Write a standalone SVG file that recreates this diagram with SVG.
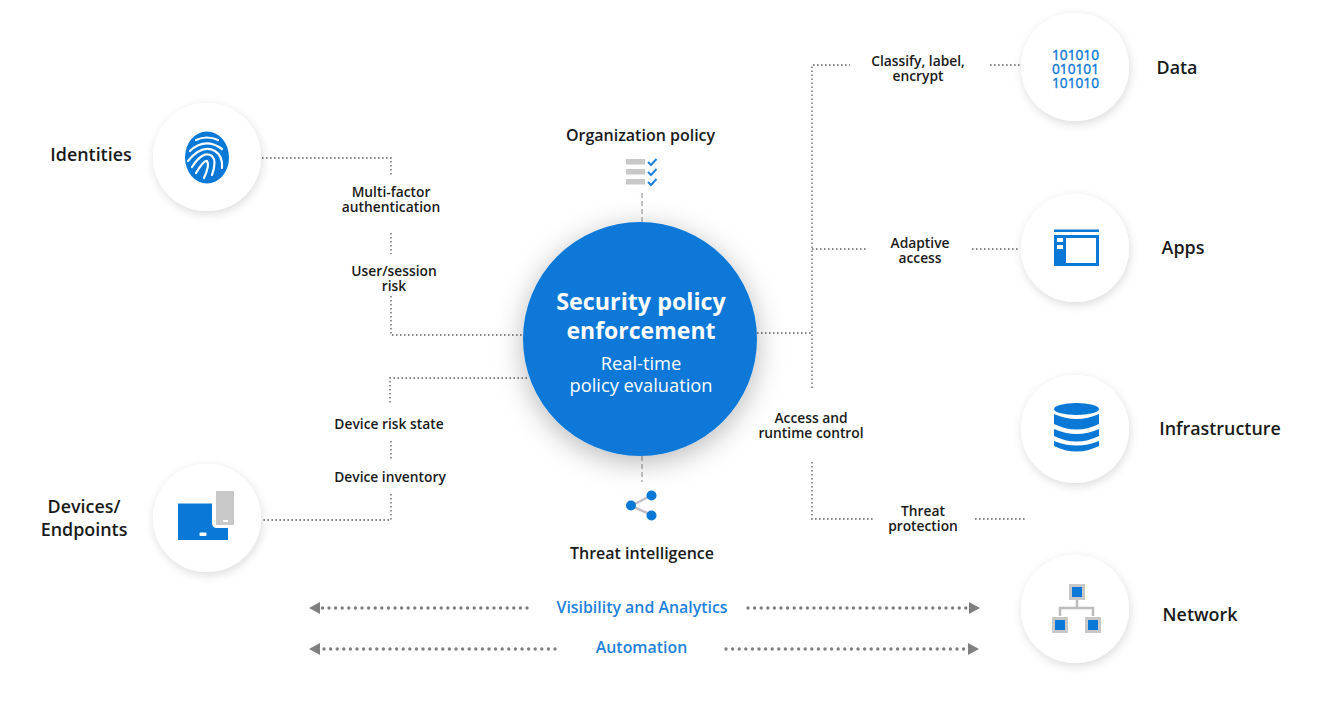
<svg xmlns="http://www.w3.org/2000/svg" width="1340" height="706" viewBox="0 0 1340 706">
<style>
text{font-family:"Open Sans","Noto Sans","Liberation Sans",sans-serif;text-anchor:middle}
.name{font-size:17.9px;font-weight:600;fill:#1a1a1a}
.lab{font-size:13.8px;font-weight:600;fill:#1a1a1a}
.top{font-size:16px;font-weight:600;fill:#1a1a1a}
.an{font-size:15.9px;font-weight:600;fill:#1e82dc}
.dot{fill:none;stroke:#8a8a8a;stroke-width:1.8;stroke-dasharray:1.6 2.4}
.dash{fill:none;stroke:#c4c4c4;stroke-width:2;stroke-dasharray:5 3}
.arr{fill:none;stroke:#808080;stroke-width:3.4;stroke-dasharray:0 6.6;stroke-linecap:round}
.disc{fill:#fff;filter:url(#sh)}
.b{fill:#0a78d7}
.g{fill:#c8c8c8}
.fp{fill:none;stroke:#fff;stroke-width:2.2;stroke-linecap:round}
</style>
<defs>
<filter id="sh" x="-30%" y="-30%" width="160%" height="160%"><feDropShadow dx="1" dy="3" stdDeviation="5" flood-color="#000" flood-opacity="0.14"/></filter>
<filter id="sh2" x="-30%" y="-30%" width="160%" height="160%"><feDropShadow dx="0" dy="6" stdDeviation="14" flood-color="#000" flood-opacity="0.28"/></filter>
</defs>
<rect width="1340" height="706" fill="#fff"/>
<g id="connectors">
<path class="dot" d="M262 158H391V176"/>
<path class="dot" d="M391 233V254"/>
<path class="dot" d="M391 296V335H523"/>
<path class="dot" d="M527 378H390V403"/>
<path class="dot" d="M391 441V460"/>
<path class="dot" d="M391 494V520H260"/>
<path class="dot" d="M757 333H812"/>
<path class="dot" d="M812 388V65H850"/>
<path class="dot" d="M812 249H868"/>
<path class="dot" d="M990 65H1020"/>
<path class="dot" d="M972 249H1020"/>
<path class="dot" d="M812 462V519H875"/>
<path class="dot" d="M975 519H1026"/>
<path class="dash" d="M642 193V222"/>
<path class="dash" d="M642 456V482"/>
<g id="arrows">
<path class="arr" d="M527 608H321"/><path d="M320 602L309 608L320 614Z" fill="#808080"/>
<path class="arr" d="M748 608H969"/><path d="M969 602L980 608L969 614Z" fill="#808080"/>
<path class="arr" d="M555 649H321"/><path d="M320 643L309 649L320 655Z" fill="#808080"/>
<path class="arr" d="M726 649H968"/><path d="M968 643L979 649L968 655Z" fill="#808080"/>
</g>
</g>
<g id="policy-enforcement">
<circle cx="640" cy="339" r="117" class="b" style="filter:url(#sh2)"/>
<text x="641" y="310" font-size="23.300" font-weight="700" fill="#fff">Security policy</text>
<text x="641" y="339" font-size="23" font-weight="700" fill="#fff">enforcement</text>
<text x="641" y="370" font-size="18.300" font-weight="500" fill="#fff">Real-time</text>
<text x="641" y="392" font-size="18.300" font-weight="500" fill="#fff">policy evaluation</text>
</g>
<g id="identities">
<circle cx="207" cy="157" r="54" class="disc"/>
<ellipse cx="207" cy="157.500" rx="22" ry="26" class="b"/>
<path class="fp" d="M196 140Q207 135 218 140M190 151Q205 137 222 149M188 161Q202 144 215 151Q223 156 222 168M192 167Q203 150 212 156Q217 161 212 175M196 173Q204 160 207 161Q210 165 204 178"/>
<text x="91" y="161" class="name">Identities</text>
</g>
<g id="devices">
<circle cx="207" cy="518" r="54" class="disc"/>
<path class="b" d="M178 503.500H212V523Q212 528 217 528H228V540H178Z"/>
<rect x="199.500" y="532.500" width="7" height="3.500" rx="1" fill="#fff"/>
<rect x="216" y="491" width="18" height="34" class="g"/>
<rect x="223" y="520" width="5" height="2" fill="#fff"/>
<text x="84" y="513" class="name">Devices/</text>
<text x="84" y="536" class="name">Endpoints</text>
</g>
<g id="data">
<circle cx="1075" cy="67" r="54" class="disc"/>
<g font-size="15" font-weight="400" fill="#0a78d7" stroke="#0a78d7" stroke-width="0.400" style="font-family:'Liberation Mono',monospace">
<text x="1075.500" y="59.500" textLength="47" lengthAdjust="spacingAndGlyphs">101010</text>
<text x="1075.500" y="73.500" textLength="47" lengthAdjust="spacingAndGlyphs">010101</text>
<text x="1075.500" y="87.500" textLength="47" lengthAdjust="spacingAndGlyphs">101010</text>
</g>
<text x="1177" y="74" class="name">Data</text>
</g>
<g id="apps">
<circle cx="1075" cy="248" r="54" class="disc"/>
<rect x="1054" y="229.500" width="45" height="2.500" class="b"/>
<rect x="1054" y="235" width="45" height="31" class="b"/>
<rect x="1066" y="238" width="30" height="25" fill="#fff"/>
<rect x="1057" y="238" width="6" height="4" fill="#fff"/>
<rect x="1057" y="245" width="6" height="4" fill="#fff"/>
<text x="1183" y="254" class="name">Apps</text>
</g>
<g id="infrastructure">
<circle cx="1075" cy="429" r="54" class="disc"/>
<ellipse cx="1076.500" cy="409" rx="22.500" ry="6" class="b"/>
<path class="b" d="M1054 414Q1076.500 424 1099 414V424Q1076.500 435 1054 424Z"/>
<path class="b" d="M1054 429Q1076.500 439 1099 429V436Q1076.500 447 1054 436Z"/>
<path class="b" d="M1054 441Q1076.500 450 1099 441V446Q1076.500 457 1054 446Z"/>
<text x="1220" y="435" class="name">Infrastructure</text>
</g>
<g id="network">
<circle cx="1075" cy="609" r="54" class="disc"/>
<path d="M1077 600V608M1060 616V608H1093V616" fill="none" stroke="#bdbdbd" stroke-width="2.500"/>
<rect x="1069" y="584" width="16" height="16" class="g"/>
<rect x="1072" y="587" width="10" height="10" class="b"/>
<rect x="1052" y="617" width="16" height="16" class="g"/>
<rect x="1055" y="620" width="10" height="10" class="b"/>
<rect x="1085" y="617" width="16" height="16" class="g"/>
<rect x="1088" y="620" width="10" height="10" class="b"/>
<text x="1200" y="621" class="name">Network</text>
</g>
<g id="organization-policy">
<text x="640.500" y="141" class="top">Organization policy</text>
<rect x="626" y="159" width="19" height="5.500" class="g"/>
<rect x="626" y="169" width="19" height="5.500" class="g"/>
<rect x="626" y="179" width="19" height="5.500" class="g"/>
<path d="M648 162L651 165L656.500 159M648 172L651 175L656.500 169M648 182L651 185L656.500 179" fill="none" stroke="#1e82dc" stroke-width="2"/>
</g>
<g id="threat-intelligence">
<path d="M631 506L652 495M631 506L652 515" stroke="#c4bcc4" stroke-width="2.500"/>
<circle cx="631" cy="505.500" r="5" class="b"/>
<circle cx="651.500" cy="495.500" r="5" class="b"/>
<circle cx="651.500" cy="515.500" r="5" class="b"/>
<text x="642" y="559" class="top">Threat intelligence</text>
</g>
<g id="labels">
<text x="391" y="197" class="lab">Multi-factor</text>
<text x="391" y="212" class="lab">authentication</text>
<text x="394" y="276" class="lab">User/session</text>
<text x="394" y="291" class="lab">risk</text>
<text x="389" y="429" class="lab">Device risk state</text>
<text x="390" y="482" class="lab">Device inventory</text>
<text x="811" y="423" class="lab">Access and</text>
<text x="811" y="438" class="lab">runtime control</text>
<text x="918" y="66" class="lab">Classify, label,</text>
<text x="918" y="81" class="lab">encrypt</text>
<text x="920" y="248" class="lab">Adaptive</text>
<text x="920" y="263" class="lab">access</text>
<text x="923" y="516" class="lab">Threat</text>
<text x="923" y="531" class="lab">protection</text>
<text x="642" y="613" class="an">Visibility and Analytics</text>
<text x="641.500" y="653" class="an">Automation</text>
</g>
</svg>
